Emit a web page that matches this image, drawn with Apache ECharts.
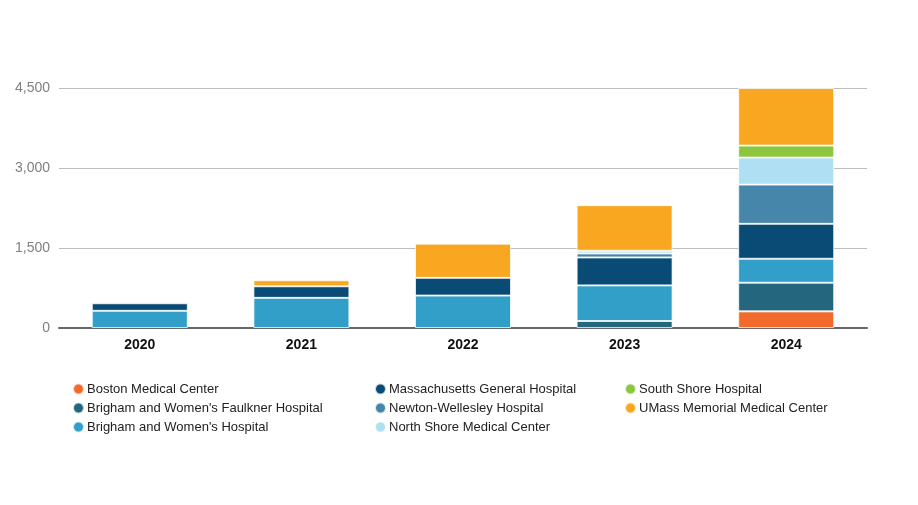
<!DOCTYPE html>
<html>
<head>
<meta charset="utf-8">
<script src="https://cdn.jsdelivr.net/npm/echarts@6/dist/echarts.min.js"></script>
<style>
    html, body { margin: 0; padding: 0; background: #fff; }
    #chart { width: 918px; height: 505px; }
</style>
</head>
<body>
<div id="chart"></div>
<script>
// years on the x axis
const years = ['2020', '2021', '2022', '2023', '2024'];

// hospitals, bottom of the stack first
const hospitals = [
    'Boston Medical Center',
    'Brigham and Women\'s Faulkner Hospital',
    'Brigham and Women\'s Hospital',
    'Massachusetts General Hospital',
    'Newton-Wellesley Hospital',
    'North Shore Medical Center',
    'South Shore Hospital',
    'UMass Memorial Medical Center'
];

// values (null = no bar)
const bostonMedical   = [null, null, null, null, 312];
const bwFaulkner      = [null, null, null, 131, 537];
const brighamWomens   = [322, 565, 608, 668, 449];
const massGeneral     = [142, 217, 332, 524, 655];
const newtonWellesley = [null, null, null, 75, 736];
const northShore      = [null, null, null, 50, 506];
const southShore      = [null, null, null, null, 225];
const umassMemorial   = [null, 113, 642, 855, 1080];

const seriesValues = [
    bostonMedical, bwFaulkner, brighamWomens, massGeneral,
    newtonWellesley, northShore, southShore, umassMemorial
];

const colors = [
    '#f26b2d', '#24667e', '#319fc8', '#094b75',
    '#4786ab', '#aedff2', '#8cc63f', '#f9a620'
];

// y ticks
const yTicks = [0, 1500, 3000, 4500];

const font = '"Liberation Sans", Arial, sans-serif';

const chart = echarts.init(document.getElementById('chart'));

// three legend columns, like the original
const legendCols = [
    { left: 67, names: hospitals.slice(0, 3) },
    { left: 369, names: hospitals.slice(3, 6) },
    { left: 619, names: hospitals.slice(6) }
];

let option = {
    animation: false,
    color: colors,
    grid: {
        left: 59,
        right: 51,
        top: 88,
        bottom: 177
    },
    legend: legendCols.map(col => ({
        orient: 'vertical',
        left: col.left,
        top: 377,
        icon: 'circle',
        itemWidth: 11,
        itemHeight: 11,
        itemGap: 5,
        data: col.names,
        textStyle: {
            fontFamily: font,
            fontSize: 13,
            color: '#222',
            lineHeight: 14,
            padding: [0, 0, 0, -2]
        }
    })),
    xAxis: {
        type: 'category',
        data: years,
        axisTick: { show: false },
        axisLine: { lineStyle: { color: '#666', width: 2 } },
        axisLabel: {
            margin: 10,
            fontFamily: font,
            fontSize: 14,
            fontWeight: 'bold',
            color: '#111'
        }
    },
    yAxis: {
        type: 'value',
        min: yTicks[0],
        max: yTicks[yTicks.length - 1],
        interval: 1500,
        axisLine: { show: false },
        axisTick: { show: false },
        splitLine: { lineStyle: { color: '#bdbdbd', width: 1 } },
        axisLabel: {
            margin: 9,
            padding: [3, 0, 0, 0],
            fontFamily: font,
            fontSize: 14,
            color: '#808080',
            formatter: v => v.toLocaleString('en-US')
        }
    },
    series: hospitals.map((name, i) => ({
        name: name,
        type: 'bar',
        stack: 'total',
        barWidth: 96,
        clip: false,
        data: seriesValues[i],
        itemStyle: {
            borderColor: 'rgba(255,255,255,0.75)',
            borderWidth: 1
        }
    }))
};

chart.setOption(option);
</script>
</body>
</html>
